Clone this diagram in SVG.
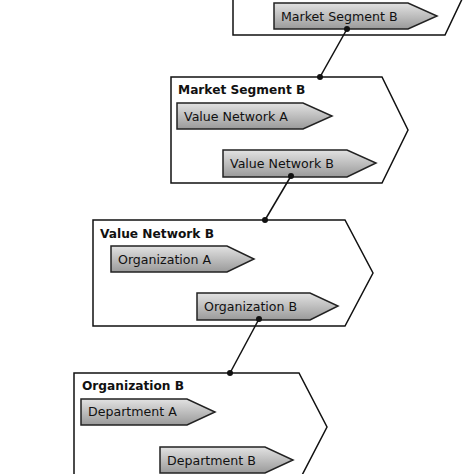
<svg xmlns="http://www.w3.org/2000/svg" width="474" height="474" viewBox="0 0 474 474">
<defs>
<linearGradient id="g" x1="0" y1="0" x2="0" y2="1">
<stop offset="0" stop-color="#e2e2e2"/>
<stop offset="1" stop-color="#9a9a9a"/>
</linearGradient>
</defs>
<style>
.box{fill:#fff;stroke:#111;stroke-width:1.5}
.chev{fill:url(#g);stroke:#222;stroke-width:1.5}
.t{font-family:"DejaVu Sans",sans-serif;font-size:12.6px;fill:#111}
.h{font-family:"DejaVu Sans",sans-serif;font-size:12.2px;font-weight:bold;fill:#111}
.c{stroke:#111;stroke-width:1.5;fill:none}
.d{fill:#111}
</style>
<rect width="474" height="474" fill="#fff"/>
<g id="box-top">
<path class="box" d="M233,-5 L233,35 L445,35 L464,-5"/>
<g id="chev-market-segment-b-top">
<path class="chev" d="M274,3 L408,3 L437,16 L408,29 L274,29 Z"/>
<text class="t" x="281" y="21">Market Segment B</text>
</g>
</g>
<g id="box-market-segment-b">
<path class="box" d="M171,77 L382,77 L408,130 L382,183 L171,183 Z"/>
<text class="h" x="178" y="94">Market Segment B</text>
<g id="chev-value-network-a">
<path class="chev" d="M177,103 L303,103 L332,116 L303,129 L177,129 Z"/>
<text class="t" x="184" y="121">Value Network A</text>
</g>
<g id="chev-value-network-b">
<path class="chev" d="M223,150 L347,150 L376,163 L347,177 L223,177 Z"/>
<text class="t" x="230" y="168">Value Network B</text>
</g>
</g>
<g id="box-value-network-b">
<path class="box" d="M93,220 L345,220 L373,273 L345,326 L93,326 Z"/>
<text class="h" x="100" y="238">Value Network B</text>
<g id="chev-organization-a">
<path class="chev" d="M111,246 L227,246 L254,259 L227,272 L111,272 Z"/>
<text class="t" x="118" y="264">Organization A</text>
</g>
<g id="chev-organization-b">
<path class="chev" d="M197,293 L310,293 L338,306 L310,320 L197,320 Z"/>
<text class="t" x="204" y="311">Organization B</text>
</g>
</g>
<g id="box-organization-b">
<path class="box" d="M74,480 L74,373 L299,373 L327,427 L299,481"/>
<text class="h" x="82" y="390">Organization B</text>
<g id="chev-department-a">
<path class="chev" d="M81,399 L187,399 L215,412 L187,425 L81,425 Z"/>
<text class="t" x="88" y="416">Department A</text>
</g>
<g id="chev-department-b">
<path class="chev" d="M160,447 L265,447 L293,460 L265,473 L160,473 Z"/>
<text class="t" x="167" y="465">Department B</text>
</g>
</g>
<g id="connectors">
<line class="c" x1="347" y1="29" x2="320" y2="77"/>
<circle class="d" cx="347" cy="29" r="3"/>
<circle class="d" cx="320" cy="77" r="3"/>
<line class="c" x1="291" y1="176" x2="265" y2="220"/>
<circle class="d" cx="291" cy="176" r="3"/>
<circle class="d" cx="265" cy="220" r="3"/>
<line class="c" x1="259" y1="319" x2="230" y2="373"/>
<circle class="d" cx="259" cy="319" r="3"/>
<circle class="d" cx="230" cy="373" r="3"/>
</g>
</svg>
